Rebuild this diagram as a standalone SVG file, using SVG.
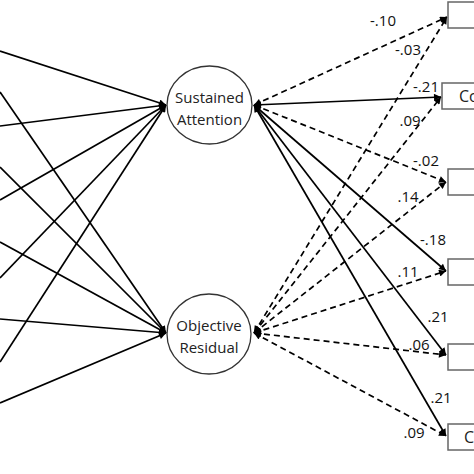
<svg xmlns="http://www.w3.org/2000/svg" width="474" height="474" viewBox="0 0 474 474">
<defs>
<marker id="ah" viewBox="0 0 10 10" refX="10" refY="5" markerWidth="9" markerHeight="7" markerUnits="userSpaceOnUse" orient="auto-start-reverse">
<path d="M0,0 L10,5 L0,10 Z" fill="#000"/>
</marker>
</defs>
<style>
.ln{stroke:#000;stroke-width:1.7;fill:none;marker-end:url(#ah)}
.ds{stroke-dasharray:6 4}
.st{marker-start:url(#ah)}
.el{fill:#fff;stroke:#333;stroke-width:1.3}
.bx{fill:#fff;stroke:#666;stroke-width:1.5}
.t{font-family:"Open Sans","Liberation Sans",sans-serif;font-size:15px;fill:#222;text-anchor:middle}
.bt{font-family:"Open Sans","Liberation Sans",sans-serif;font-size:16px;fill:#222}
.lb{font-family:"Open Sans","Liberation Sans",sans-serif;font-size:15px;fill:#111;text-anchor:middle}
</style>
<rect width="474" height="474" fill="#fff"/>
<g id="connectors">
<line class="ln" x1="0" y1="51" x2="166" y2="105"/>
<line class="ln" x1="0" y1="126" x2="166" y2="105"/>
<line class="ln" x1="0" y1="200" x2="166" y2="105"/>
<line class="ln" x1="0" y1="278" x2="166" y2="105"/>
<line class="ln" x1="0" y1="362" x2="166" y2="105"/>
<line class="ln" x1="0" y1="92" x2="166" y2="333"/>
<line class="ln" x1="0" y1="167" x2="166" y2="333"/>
<line class="ln" x1="0" y1="242" x2="166" y2="333"/>
<line class="ln" x1="0" y1="319" x2="166" y2="333"/>
<line class="ln" x1="0" y1="403" x2="166" y2="333"/>
<line class="ln ds st" x1="254" y1="105" x2="447" y2="17"/>
<line class="ln st" x1="254" y1="105" x2="441" y2="97"/>
<line class="ln ds st" x1="254" y1="105" x2="446" y2="182"/>
<line class="ln st" x1="254" y1="105" x2="446" y2="271"/>
<line class="ln st" x1="254" y1="105" x2="446" y2="355"/>
<line class="ln st" x1="254" y1="105" x2="446" y2="436"/>
<line class="ln ds st" x1="254" y1="333" x2="447" y2="17"/>
<line class="ln ds st" x1="254" y1="333" x2="441" y2="97"/>
<line class="ln ds st" x1="254" y1="333" x2="446" y2="182"/>
<line class="ln ds st" x1="254" y1="333" x2="446" y2="271"/>
<line class="ln ds st" x1="254" y1="333" x2="446" y2="355"/>
<line class="ln ds st" x1="254" y1="333" x2="446" y2="436"/>
</g>
<g id="labels">
<text class="lb" x="383" y="26">-.10</text>
<text class="lb" x="408" y="55">-.03</text>
<text class="lb" x="426" y="92">-.21</text>
<text class="lb" x="410" y="126">.09</text>
<text class="lb" x="426" y="166">-.02</text>
<text class="lb" x="408" y="202">.14</text>
<text class="lb" x="433" y="245">-.18</text>
<text class="lb" x="408" y="277">.11</text>
<text class="lb" x="438" y="322">.21</text>
<text class="lb" x="419" y="350">.06</text>
<text class="lb" x="441" y="403">.21</text>
<text class="lb" x="414" y="438">.09</text>
</g>
<g id="sustained-attention">
<ellipse class="el" cx="209.5" cy="105" rx="42.5" ry="39"/>
<text class="t" x="209.5" y="103">Sustained</text>
<text class="t" x="209.5" y="125">Attention</text>
</g>
<g id="objective-residual">
<ellipse class="el" cx="209" cy="334" rx="42" ry="40"/>
<text class="t" x="209" y="331">Objective</text>
<text class="t" x="209" y="353">Residual</text>
</g>
<g id="box1"><rect class="bx" x="448" y="2" width="40" height="26"/></g>
<g id="box2"><rect class="bx" x="442" y="83" width="46" height="26"/><text class="bt" x="459" y="102">Co</text></g>
<g id="box3"><rect class="bx" x="448" y="169" width="40" height="26"/></g>
<g id="box4"><rect class="bx" x="448" y="259" width="40" height="26"/></g>
<g id="box5"><rect class="bx" x="448" y="344" width="40" height="26"/></g>
<g id="box6"><rect class="bx" x="448" y="424" width="40" height="26"/><text class="bt" x="464" y="443">C</text></g>
</svg>
